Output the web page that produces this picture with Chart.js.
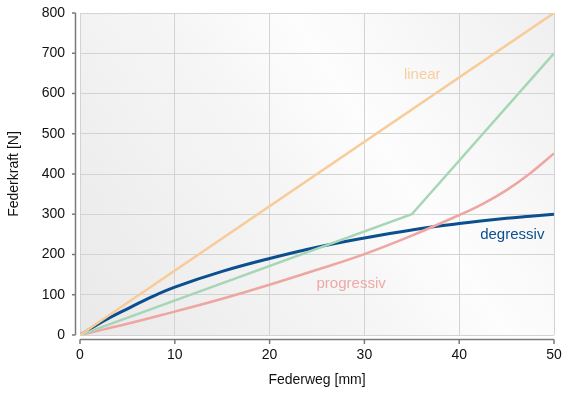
<!DOCTYPE html>
<html>
<head>
<meta charset="utf-8">
<script src="https://cdn.jsdelivr.net/npm/chart.js@4/dist/chart.umd.min.js"></script>
<style>
  html, body { margin: 0; padding: 0; background: #fff; }
  #wrap { width: 569px; height: 400px; }
</style>
</head>
<body>
<div id="wrap"><canvas id="springChart"></canvas></div>
<script>
// Federweg [mm] / Federkraft [N]
const wegKurve = [0, 2.5, 5, 7.5, 10, 15, 20, 25, 30, 35, 40, 42.5, 45, 47.5, 50];
const degressiv = [0, 35, 65, 94, 119, 158, 190, 218, 241, 261, 277, 284, 290, 295, 300];
const progressiv = [0, 14, 28, 43, 58, 90, 125, 162, 201, 247, 298, 326, 360, 402, 451];
const wegLinear = [0, 50];
const linear = [0, 800];
const wegKnick = [0, 35, 50];
const knick = [0, 300, 700];
const xTicks = [0, 10, 20, 30, 40, 50];
const yTicks = [0, 100, 200, 300, 400, 500, 600, 700, 800];

// label text + position in data units
const labels = [
  { text: 'linear', x: 36.1, y: 646, color: '#f6cf9f' },
  { text: 'progressiv', x: 28.6, y: 127, color: '#eeaaa5' },
  { text: 'degressiv', x: 45.6, y: 248, color: '#0b4f8e' },
];

const toPoints = (xs, ys) => xs.map((x, i) => ({ x: x, y: ys[i] }));
const FONT = "'Liberation Sans', Arial, sans-serif";

// plot background gradient
const bgPlugin = {
  id: 'bg',
  beforeDraw(chart) {
    const { ctx, chartArea: a } = chart;
    const g = ctx.createLinearGradient(a.left, a.bottom, a.right, a.top);
    g.addColorStop(0, '#e9e9e9');
    g.addColorStop(0.45, '#f6f6f6');
    g.addColorStop(0.62, '#fdfdfd');
    g.addColorStop(1, '#efefef');
    ctx.save();
    ctx.fillStyle = g;
    ctx.fillRect(a.left, a.top, a.right - a.left, a.bottom - a.top);
    ctx.restore();
  }
};

// detached axis lines with small tick marks
const axisPlugin = {
  id: 'axes',
  afterDraw(chart) {
    const { ctx, chartArea: a, scales } = chart;
    ctx.save();
    ctx.strokeStyle = '#7a7a7a';
    ctx.lineWidth = 1.5;
    ctx.beginPath();
    ctx.moveTo(a.left - 4.5, a.top);
    ctx.lineTo(a.left - 4.5, a.bottom);
    ctx.moveTo(a.left, a.bottom + 4.5);
    ctx.lineTo(a.right, a.bottom + 4.5);
    yTicks.forEach(v => {
      const y = scales.y.getPixelForValue(v);
      ctx.moveTo(a.left - 8, y);
      ctx.lineTo(a.left - 4.5, y);
    });
    xTicks.forEach(v => {
      const x = scales.x.getPixelForValue(v);
      ctx.moveTo(x, a.bottom + 4.5);
      ctx.lineTo(x, a.bottom + 9);
    });
    ctx.stroke();
    ctx.restore();
  }
};

const labelPlugin = {
  id: 'curveLabels',
  afterDatasetsDraw(chart) {
    const { ctx, scales } = chart;
    ctx.save();
    ctx.font = '15px ' + FONT;
    ctx.textAlign = 'center';
    ctx.textBaseline = 'middle';
    labels.forEach(l => {
      ctx.fillStyle = l.color;
      ctx.fillText(l.text, scales.x.getPixelForValue(l.x), scales.y.getPixelForValue(l.y));
    });
    ctx.restore();
  }
};

const lineSet = (data, color, width, curved) => ({
  data: data,
  borderColor: color,
  borderWidth: width,
  pointRadius: 0,
  fill: false,
  tension: curved ? 0.4 : 0,
});

const ctx = document.getElementById('springChart').getContext('2d');
new Chart(ctx, {
  type: 'line',
  data: {
    datasets: [
      lineSet(toPoints(wegLinear, linear), '#f7cc98', 2.5, false),
      lineSet(toPoints(wegKnick, knick), '#a6d6b6', 2.5, false),
      lineSet(toPoints(wegKurve, progressiv), '#eda6a1', 2.5, true),
      lineSet(toPoints(wegKurve, degressiv), '#0b4f8e', 3, true),
    ],
  },
  options: {
    responsive: true,
    maintainAspectRatio: false,
    animation: false,
    layout: { padding: { top: 13, right: 15, left: 0, bottom: 0 } },
    plugins: {
      legend: { display: false },
      tooltip: { enabled: false },
    },
    scales: {
      x: {
        type: 'linear',
        min: 0,
        max: 50,
        afterBuildTicks: s => { s.ticks = xTicks.map(v => ({ value: v })); },
        afterFit: s => { s.height = 65; s.paddingLeft = 0; s.paddingRight = 0; },
        border: { display: false },
        grid: { color: '#d3d3d3', lineWidth: 1, drawTicks: false },
        ticks: { padding: 12, color: '#111', font: { size: 14, family: FONT } },
        title: {
          display: true,
          text: 'Federweg [mm]',
          color: '#111',
          font: { size: 14, family: FONT },
          padding: { top: 0, bottom: 11 },
        },
      },
      y: {
        min: 0,
        max: 800,
        afterBuildTicks: s => { s.ticks = yTicks.map(v => ({ value: v })); },
        afterFit: s => { s.width = 80; s.paddingTop = 0; s.paddingBottom = 0; },
        border: { display: false },
        grid: { color: '#d3d3d3', lineWidth: 1, drawTicks: false },
        ticks: { padding: 15, color: '#111', font: { size: 14, family: FONT } },
        title: {
          display: true,
          text: 'Federkraft [N]',
          color: '#111',
          font: { size: 14, family: FONT },
          padding: { top: 6, bottom: 0 },
        },
      },
    },
  },
  plugins: [bgPlugin, axisPlugin, labelPlugin],
});
</script>
</body>
</html>
